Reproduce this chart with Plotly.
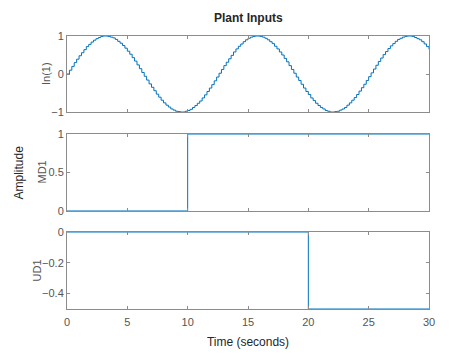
import plotly.graph_objects as go

# Data
t_in = [round(0.2 * k, 1) for k in range(151)]
in1 = [0.00, 0.10, 0.20, 0.30, 0.39, 0.48, 0.56, 0.64, 0.72, 0.78,
       0.84, 0.89, 0.93, 0.96, 0.99, 1.00, 1.00, 0.99, 0.97, 0.95,
       0.91, 0.86, 0.81, 0.75, 0.68, 0.60, 0.52, 0.43, 0.34, 0.24,
       0.14, 0.04, -0.06, -0.16, -0.26, -0.35, -0.44, -0.53, -0.61, -0.69,
       -0.76, -0.82, -0.87, -0.92, -0.95, -0.98, -0.99, -1.00, -1.00, -0.98,
       -0.96, -0.93, -0.88, -0.83, -0.77, -0.71, -0.63, -0.55, -0.46, -0.37,
       -0.28, -0.18, -0.08, 0.02, 0.12, 0.22, 0.31, 0.40, 0.49, 0.58,
       0.66, 0.73, 0.79, 0.85, 0.90, 0.94, 0.97, 0.99, 1.00, 1.00,
       0.99, 0.97, 0.94, 0.90, 0.85, 0.80, 0.73, 0.66, 0.58, 0.50,
       0.41, 0.32, 0.22, 0.12, 0.02, -0.08, -0.17, -0.27, -0.37, -0.46,
       -0.54, -0.63, -0.70, -0.77, -0.83, -0.88, -0.92, -0.96, -0.98, -1.00,
       -1.00, -0.99, -0.98, -0.95, -0.92, -0.88, -0.82, -0.76, -0.69, -0.62,
       -0.54, -0.45, -0.36, -0.27, -0.17, -0.07, 0.03, 0.13, 0.23, 0.33,
       0.42, 0.51, 0.59, 0.67, 0.74, 0.80, 0.86, 0.91, 0.94, 0.97,
       0.99, 1.00, 1.00, 0.99, 0.96, 0.93, 0.90, 0.85, 0.79, 0.72,
       0.65]
t_md = [0, 10, 30]
md1 = [0, 1, 1]
t_ud = [0, 20, 30]
ud1 = [0, -0.5, -0.5]
x_ticks = [0, 5, 10, 15, 20, 25, 30]
channel_names = ["In(1)", "MD1", "UD1"]

LINE = "#0072BD"
AXC = "#8c8c8c"
TXT = "#555555"
FONT = "Liberation Sans, Arial, sans-serif"

fig = go.Figure()
fig.add_trace(go.Scatter(x=t_in, y=in1, mode="lines", line=dict(color=LINE, width=1, shape="hv"),
                         xaxis="x", yaxis="y"))
fig.add_trace(go.Scatter(x=t_md, y=md1, mode="lines", line=dict(color=LINE, width=1, shape="hv"),
                         xaxis="x2", yaxis="y2"))
fig.add_trace(go.Scatter(x=t_ud, y=ud1, mode="lines", line=dict(color=LINE, width=1, shape="hv"),
                         xaxis="x3", yaxis="y3"))

common_x = dict(range=[0, 30], tickvals=x_ticks, ticks="inside", ticklen=3, tickcolor=AXC,
                showline=True, linecolor=AXC, linewidth=1, mirror="ticks", showgrid=False,
                zeroline=False, tickfont=dict(size=11, color=TXT, family=FONT))
common_y = dict(ticks="inside", ticklen=3, tickcolor=AXC, showline=True, linecolor=AXC,
                linewidth=1, mirror="ticks", showgrid=False, zeroline=False,
                tickfont=dict(size=11, color=TXT, family=FONT))

domains = [[0.7216, 1.0], [0.359, 0.641], [0.0, 0.282]]
label_shifts = [-21, -26, -30]

annotations = [
    dict(text="<b>Plant Inputs</b>", xref="paper", yref="paper", x=0.5, y=1,
         yshift=18, xanchor="center", yanchor="middle", showarrow=False,
         font=dict(size=12, color="#262626", family=FONT)),
    dict(text="Amplitude", xref="paper", yref="paper", x=0, y=0.5, xshift=-49,
         xanchor="center", yanchor="middle", textangle=-90, showarrow=False,
         font=dict(size=12, color="#262626", family=FONT)),
]
for name, dom, sh in zip(channel_names, domains, label_shifts):
    annotations.append(dict(text=name, xref="paper", yref="paper", x=0, y=(dom[0] + dom[1]) / 2,
                            xshift=sh, xanchor="center", yanchor="middle", textangle=-90,
                            showarrow=False, font=dict(size=11, color=TXT, family=FONT)))

fig.update_layout(
    width=474, height=355,
    margin=dict(l=59, r=53, t=28, b=54),
    paper_bgcolor="white", plot_bgcolor="white",
    showlegend=False,
    font=dict(family=FONT, color=TXT),
    xaxis=dict(common_x, anchor="y", showticklabels=False),
    xaxis2=dict(common_x, anchor="y2", showticklabels=False),
    xaxis3=dict(common_x, anchor="y3", ticklabelstandoff=3,
                title=dict(text="Time (seconds)", font=dict(size=12, color="#262626", family=FONT),
                           standoff=10)),
    yaxis=dict(common_y, domain=domains[0], range=[-1, 1], tickvals=[-1, 0, 1]),
    yaxis2=dict(common_y, domain=domains[1], range=[0, 1], tickvals=[0, 0.5, 1]),
    yaxis3=dict(common_y, domain=domains[2], range=[-0.5, 0], tickvals=[-0.4, -0.2, 0]),
    annotations=annotations,
)

fig.write_html("out.html")
